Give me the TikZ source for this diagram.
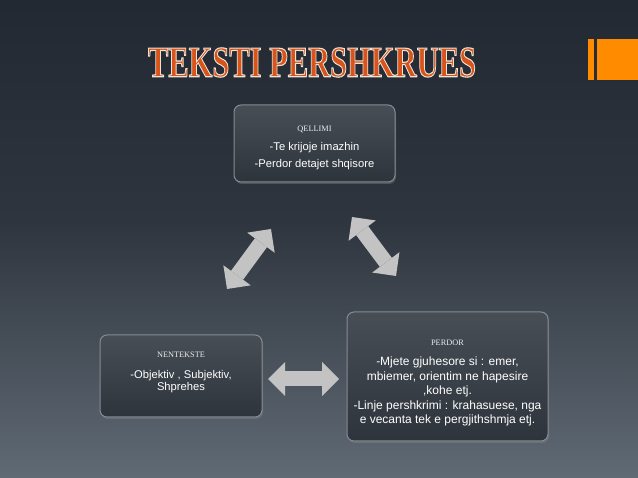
\documentclass[tikz,border=0pt]{standalone}
\usepackage{fontspec}
\newfontfamily\bodyfont{Liberation Sans}
\newfontfamily\headfont{Liberation Serif}
\newfontfamily\titlefont{Liberation Serif}
\usetikzlibrary{arrows.meta,shadows,positioning}
\usepackage{xcolor}

\definecolor{bgtop}{HTML}{222932}
\definecolor{bgmid}{HTML}{2E353E}
\definecolor{bgbot}{HTML}{606A74}
\definecolor{boxtop}{HTML}{474E56}
\definecolor{boxbot}{HTML}{2E343B}
\definecolor{boxedge}{HTML}{858B92}
\definecolor{arrowgray}{HTML}{C3C3C3}
\definecolor{titleorange}{HTML}{D8541A}
\definecolor{barorange}{HTML}{FF8C00}

\newcommand\infoheadfont{\color{white!85!gray}\headfont\fontsize{8.3}{9}\selectfont}
% orange letters with a light outline (fill+stroke text mode)
\newcommand\titleword{\special{pdf:code q 2 Tr 1.1 w 0.93 0.89 0.84 RG}%
  \resizebox{328pt}{29pt}{\titlefont\bfseries\fontsize{44}{44}\selectfont TEKSTI PERSHKRUES}%
  \special{pdf:code Q}}

\pgfdeclareverticalshading{slidebg}{100bp}{color(0bp)=(bgbot); color(25bp)=(bgbot);
  color(52bp)=(bgmid); color(75bp)=(bgtop); color(100bp)=(bgtop)}

\tikzset{
  infobox/.style={rectangle,rounded corners=7pt,draw=boxedge,line width=1pt,
    top color=boxtop,bottom color=boxbot,
    drop shadow={opacity=0.45,shadow xshift=1pt,shadow yshift=-2pt}},
  infotext/.style={align=center,text=white,inner sep=0pt},
  dblarrow/.style={draw=arrowgray,line width=15pt,
    {Triangle[length=17pt,width=34pt,line width=0pt,fill=arrowgray]}-{Triangle[length=17pt,width=34pt,line width=0pt,fill=arrowgray]}},
  titletext/.style={inner sep=0pt}
}

\begin{document}
\begin{tikzpicture}[x=1pt,y=-1pt]
        % slide background
        \useasboundingbox (0,0) rectangle (638,478);
        \shade[shading=slidebg] (0,0) rectangle (638,478);
        \fill[barorange] (588,39) rectangle (594,80);
        \fill[barorange] (597,39) rectangle (638,80);

        % title
        \node[titletext,text=titleorange] (title) at (312,62.5) {\titleword};

        % boxes
        \node[infobox,minimum width=161pt,minimum height=77pt] (goal) at (314.5,143.5) {};
        \node[infobox,minimum width=201pt,minimum height=129pt] (use) at (447.5,376.5) {};
        \node[infobox,minimum width=162pt,minimum height=82pt] (sub) at (181,376) {};

        \node[infotext,font=\bodyfont\fontsize{11.2}{16.5}\selectfont] (goaltxt) at ([yshift=-4.5pt]goal.center)
            {{\infoheadfont QELLIMI}\\[2.5pt]-Te krijoje imazhin\\-Perdor detajet shqisore};
        \node[infotext,font=\bodyfont\fontsize{12}{14.5}\selectfont] (usetxt) at ([yshift=-6.5pt]use.center)
            {{\infoheadfont PERDOR}\\[5.5pt]-Mjete gjuhesore si : emer,\\mbiemer, orientim ne hapesire\\,kohe etj.\\-Linje pershkrimi : krahasuese, nga\\e vecanta tek e pergjithshmja etj.};
        \node[infotext,font=\bodyfont\fontsize{11.2}{12.5}\selectfont] (subtxt) at ([yshift=3.5pt]sub.center)
            {{\infoheadfont NENTEKSTE}\\[8.5pt]-Objektiv , Subjektiv,\\Shprehes};

        % block arrows
        \coordinate (a1) at (227,289);
        \coordinate (a2) at (271,229);
        \coordinate (b1) at (352,217);
        \coordinate (b2) at (396,276);
        \coordinate (c1) at (268,379);
        \coordinate (c2) at (339,379);
        \draw[dblarrow] (a1) -- (a2);
        \draw[dblarrow] (b1) -- (b2);
        \draw[dblarrow] (c1) -- (c2);
\end{tikzpicture}
\end{document}
